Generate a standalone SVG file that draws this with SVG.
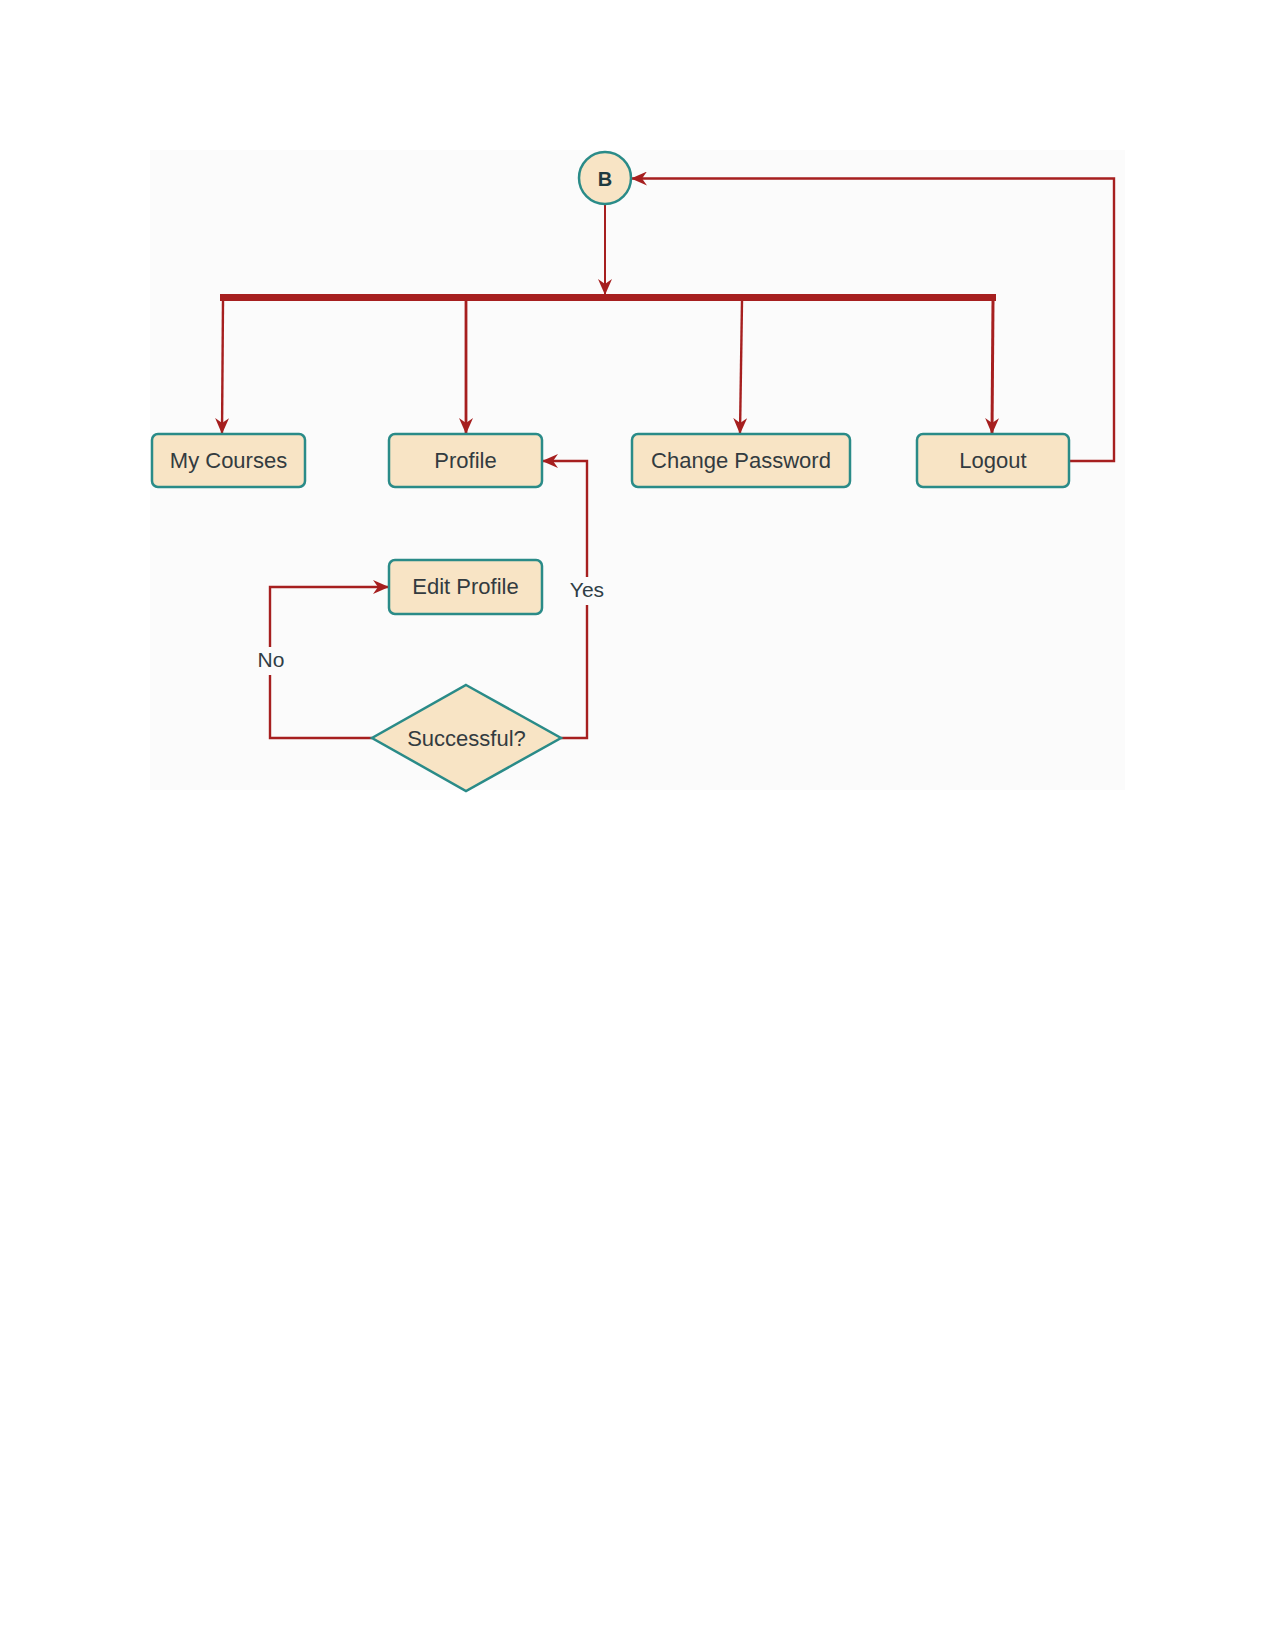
<svg xmlns="http://www.w3.org/2000/svg" width="1275" height="1650" viewBox="0 0 1275 1650">
<defs>
<marker id="arr" viewBox="0 0 16 14" refX="15" refY="7" markerWidth="16" markerHeight="14" markerUnits="userSpaceOnUse" orient="auto">
<path d="M0,0 L16,7 L0,14 L5,7 Z" fill="#a61f1f"/>
</marker>
</defs>
<style>
.node{fill:#f8e4c5;stroke:#2a8b88;stroke-width:2.5}
.lbl{font-family:"Liberation Sans",Arial,sans-serif;font-size:22px;fill:#333b40;text-anchor:middle}
.edge{fill:none;stroke:#a61f1f;stroke-width:2.4}
.bar{fill:none;stroke:#a61f1f;stroke-width:7}
.elbl{font-family:"Liberation Sans",Arial,sans-serif;font-size:21px;fill:#2f3e46;text-anchor:middle}
</style>
<rect x="0" y="0" width="1275" height="1650" fill="#ffffff"/>
<rect x="150" y="150" width="975" height="640" fill="#fbfbfb"/>
<g id="connectors">
<path class="edge" style="stroke-width:2" d="M605,205 L605,294" marker-end="url(#arr)"/>
<path class="bar" d="M220,297.5 L996,297.5"/>
<path class="edge" d="M223,301 L222,433" marker-end="url(#arr)"/>
<path class="edge" style="stroke-width:2.8" d="M466,301 L466,433" marker-end="url(#arr)"/>
<path class="edge" d="M742,301 L740,433" marker-end="url(#arr)"/>
<path class="edge" style="stroke-width:3" d="M993,301 L992,433" marker-end="url(#arr)"/>
<path class="edge" d="M1069,461 L1114,461 L1114,178.5 L632,178.5" marker-end="url(#arr)"/>
<path class="edge" d="M372,738 L270,738 L270,587 L388,587" marker-end="url(#arr)"/>
<path class="edge" d="M561,738 L587,738 L587,461 L543,461" marker-end="url(#arr)"/>
<rect x="255" y="647" width="32" height="28" fill="#fbfbfb"/>
<text class="elbl" x="271" y="667">No</text>
<rect x="568" y="577" width="38" height="28" fill="#fbfbfb"/>
<text class="elbl" x="587" y="597">Yes</text>
</g>
<g id="node-b">
<circle class="node" cx="605" cy="178" r="26"/>
<text x="605" y="185.5" style="font-family:'Liberation Sans',Arial,sans-serif;font-size:20px;font-weight:bold;fill:#1e3a40;text-anchor:middle">B</text>
</g>
<g id="node-mycourses">
<rect class="node" x="152" y="434" width="153" height="53" rx="6"/>
<text class="lbl" x="228.5" y="468">My Courses</text>
</g>
<g id="node-profile">
<rect class="node" x="389" y="434" width="153" height="53" rx="6"/>
<text class="lbl" x="465.5" y="468">Profile</text>
</g>
<g id="node-changepassword">
<rect class="node" x="632" y="434" width="218" height="53" rx="6"/>
<text class="lbl" x="741" y="468">Change Password</text>
</g>
<g id="node-logout">
<rect class="node" x="917" y="434" width="152" height="53" rx="6"/>
<text class="lbl" x="993" y="468">Logout</text>
</g>
<g id="node-editprofile">
<rect class="node" x="389" y="560" width="153" height="54" rx="6"/>
<text class="lbl" x="465.5" y="594">Edit Profile</text>
</g>
<g id="node-successful">
<polygon class="node" points="466,685 561,738 466,791 372,738"/>
<text class="lbl" x="466.5" y="746">Successful?</text>
</g>
</svg>
